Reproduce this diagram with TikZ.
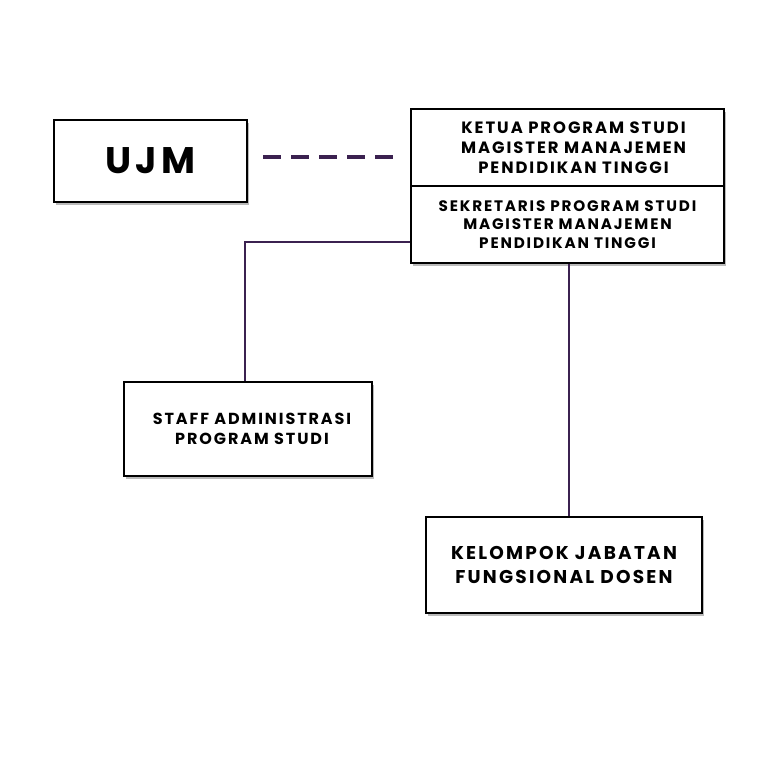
\documentclass[tikz,border=0pt]{standalone}
\usepackage{fontspec}
\setmainfont{Poppins}[LetterSpace=12,BoldFont={Poppins Bold}]
\usetikzlibrary{shadows}
\definecolor{conn}{HTML}{3B2150}
\tikzset{
  box/.style={draw=black, line width=1.2pt, fill=white, align=center, font=\bfseries,
    drop shadow={shadow xshift=2pt, shadow yshift=-3pt, fill=black!45, opacity=0.6}},
  conline/.style={draw=conn, line width=1.3pt},
}
\begin{document}
\begin{tikzpicture}[x=1pt,y=-1pt]
\useasboundingbox (0,0) rectangle (768,768);
\fill[white] (0,0) rectangle (768,768);
\node[box, minimum width=193pt, minimum height=82pt, font=\bfseries\fontsize{37}{40}\selectfont] (ujm) at (150.5,161) {UJM};
\node[box, minimum width=313pt, minimum height=77pt, font=\bfseries\fontsize{16.4}{20}\selectfont] (ketua) at (567.5,147.5) {\hspace*{12pt}KETUA PROGRAM STUDI\\\hspace*{12pt}MAGISTER MANAJEMEN\\\hspace*{12pt}PENDIDIKAN TINGGI};
\node[box, minimum width=313pt, minimum height=77pt, font=\bfseries\fontsize{15.2}{18.5}\selectfont] (sekr) at (567.5,224.5) {SEKRETARIS PROGRAM STUDI\\MAGISTER MANAJEMEN\\PENDIDIKAN TINGGI};
\node[box, minimum width=248pt, minimum height=94pt, font=\bfseries\fontsize{16}{20}\selectfont] (staff) at (248,429) {\hspace*{8pt}STAFF ADMINISTRASI\\\hspace*{8pt}PROGRAM STUDI};
\node[box, minimum width=276pt, minimum height=96pt, font=\bfseries\fontsize{18.5}{24}\selectfont] (kel) at (564,565) {KELOMPOK JABATAN\\FUNGSIONAL DOSEN};
\coordinate (d1) at (263,157);
\coordinate (d2) at (396,157);
\draw[draw=conn, line width=4pt, dash pattern=on 18pt off 10pt] (d1) -- (d2);
\draw[conline] (sekr.west |- 0,242) -| (staff.north -| 245,0);
\draw[conline] (sekr.south -| 569,0) -- (kel.north -| 569,0);
\end{tikzpicture}
\end{document}
